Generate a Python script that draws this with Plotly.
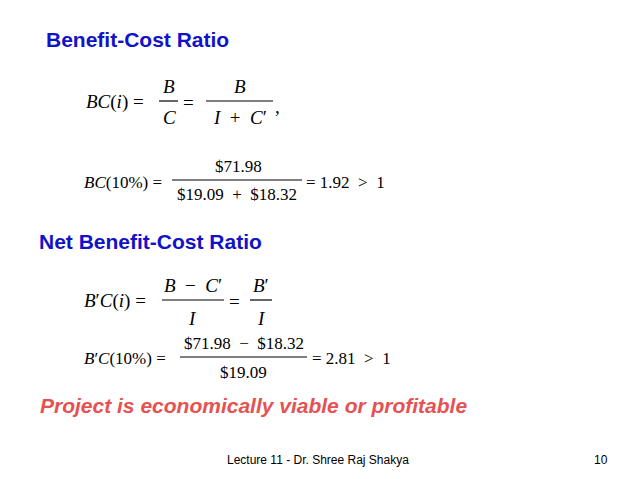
import plotly.graph_objects as go

# values shown on the slide
benefit = 71.98      # B
investment = 19.09   # I
om_cost = 18.32      # C'
rate_pct = 10
bc_ratio = 1.92
net_bc_ratio = 2.81
lecture_no = 11
slide_no = 10

W, H = 638, 479
OFF = 8  # page body margin
BLUE = "rgb(18,18,200)"
RED = "rgb(230,82,82)"
SERIF = "Liberation Serif, Times New Roman, serif"
SANS = "Liberation Sans, Arial, sans-serif"
SP = "&nbsp;"

fig = go.Figure()


def txt(x, y, s, size=17, color="black", family=SERIF, xa="left", ya="middle"):
    # place text by pixel position on the slide
    fig.add_annotation(x=(x - OFF) / W, y=1 - (y - OFF) / H, xref="paper", yref="paper",
                       text=s, showarrow=False, xanchor=xa, yanchor=ya,
                       font=dict(size=size, color=color, family=family))


def bar(x0, x1, y):
    fig.add_shape(type="line", xref="paper", yref="paper",
                  x0=(x0 - OFF) / W, x1=(x1 - OFF) / W,
                  y0=1 - (y - OFF) / H, y1=1 - (y - OFF) / H,
                  line=dict(color="black", width=1.2))


def money(v):
    return "$%.2f" % v


def op(s, n=1):
    return SP * n + s + SP * n


# headings
txt(44, 39, "<b>Benefit-Cost Ratio</b>", size=21, color=BLUE, family=SANS)
txt(37, 241, "<b>Net Benefit-Cost Ratio</b>", size=21, color=BLUE, family=SANS)

# BC(i) = B/C = B/(I + C'),
txt(84, 102, "<i>BC</i>(<i>i</i>)" + op("="), size=19)
txt(169, 86, "<i>B</i>", size=19, xa="center")
bar(159, 178, 101)
txt(169, 118, "<i>C</i>", size=19, xa="center")
txt(181, 102, "=", size=19)
txt(240, 86, "<i>B</i>", size=19, xa="center")
bar(206, 273, 101)
txt(240, 118, "<i>I</i>" + op("+", 2) + "<i>C</i>′", size=19, xa="center")
txt(273, 106, ",", size=19)

# BC(10%)
txt(82, 183, "<i>BC</i>(%d%%)" % rate_pct + op("="), size=17)
txt(238, 166, money(benefit), size=17, xa="center")
bar(172, 302, 180)
txt(237, 194, money(investment) + op("+", 2) + money(om_cost), size=17, xa="center")
txt(304, 183, "=" + SP + "%.2f" % bc_ratio + op(">", 2) + "1", size=17)

# B'C(i) = (B - C')/I = B'/I
txt(82, 301, "<i>B</i>′<i>C</i>(<i>i</i>)" + op("="), size=19)
txt(193, 285, "<i>B</i>" + op("−", 2) + "<i>C</i>′", size=19, xa="center")
bar(162, 224, 300)
txt(192, 318, "<i>I</i>", size=19, xa="center")
txt(227, 301, "=", size=19)
txt(261, 285, "<i>B</i>′", size=19, xa="center")
bar(250, 272, 300)
txt(261, 318, "<i>I</i>", size=19, xa="center")

# B'C(10%)
txt(82, 358, "<i>B</i>′<i>C</i>(%d%%)" % rate_pct + op("="), size=17)
txt(244, 343, money(benefit) + op("−", 2) + money(om_cost), size=17, xa="center")
bar(180, 307, 357)
txt(243, 372, money(investment), size=17, xa="center")
txt(310, 358, "=" + SP + "%.2f" % net_bc_ratio + op(">", 2) + "1", size=17)

# conclusion
txt(38, 405, "<b><i>Project is economically viable or profitable</i></b>",
    size=21, color=RED, family=SANS)

# footer
txt(318, 460, "Lecture %d - Dr. Shree Raj Shakya" % lecture_no, size=12,
    family=SANS, xa="center")
txt(601, 460, str(slide_no), size=12, family=SANS, xa="center")

fig.update_xaxes(visible=False, range=[0, 1])
fig.update_yaxes(visible=False, range=[0, 1])
fig.update_layout(width=W, height=H, margin=dict(l=0, r=0, t=0, b=0),
                  paper_bgcolor="white", plot_bgcolor="white",
                  showlegend=False)

fig.write_html("out.html")
